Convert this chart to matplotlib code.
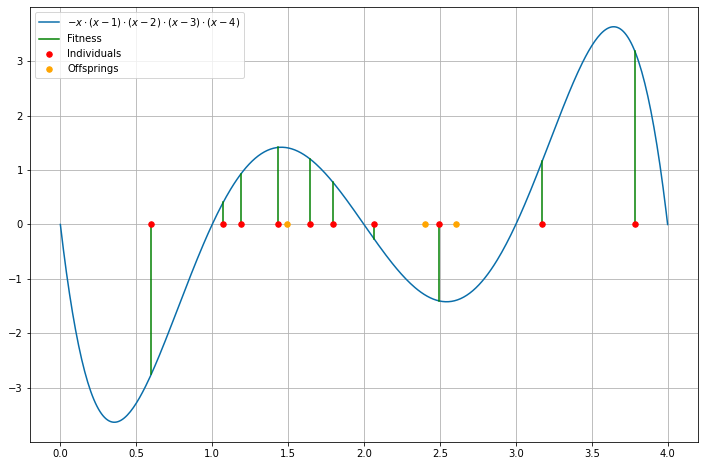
import numpy as np
import matplotlib
matplotlib.use("Agg")
import matplotlib.pyplot as plt

# positions of the population
individuals = [0.598, 1.073, 1.189, 1.432, 1.642, 1.793, 2.069, 2.497, 3.174, 3.784]
offsprings = [1.491, 2.405, 2.609]


def f(x):
    x = np.asarray(x)
    return -x * (x - 1) * (x - 2) * (x - 3) * (x - 4)


xs = np.linspace(0, 4, 400)

fig = plt.figure(figsize=(705 / 72, 466 / 72), dpi=72)
ax = fig.add_axes([30 / 705, 1 - 442 / 466, 668 / 705, 435 / 466])

ax.plot(xs, f(xs), color="#0a6eaa", lw=1.5,
        label=r"$-x \cdot (x-1) \cdot (x-2) \cdot (x-3) \cdot (x-4)$")
for i, xi in enumerate(individuals):
    ax.plot([xi, xi], [0, f(xi)], color="green", lw=1.5,
            label="Fitness" if i == 0 else None)
ax.scatter(individuals, np.zeros(len(individuals)), color="red", s=30,
           zorder=3, label="Individuals")
ax.scatter(offsprings, np.zeros(len(offsprings)), color="orange", s=30,
           zorder=3, label="Offsprings")

ax.set_yticks([-3, -2, -1, 0, 1, 2, 3])
ax.set_xticks(np.arange(0, 4.01, 0.5))
ax.grid(True, color="#b0b0b0", lw=0.8)
ax.tick_params(labelsize=10)
ax.legend(loc="upper left", fontsize=10)

fig.savefig("out.png", dpi=72)
